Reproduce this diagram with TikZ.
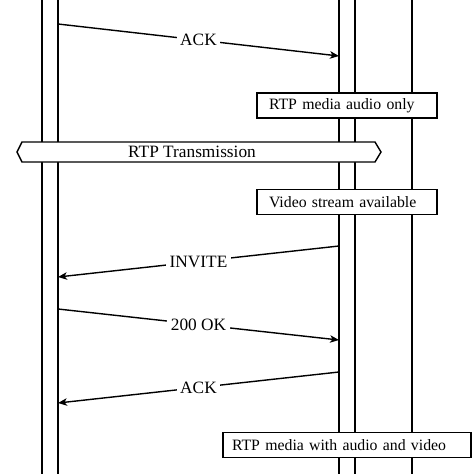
\documentclass[tikz,border=0pt]{standalone}
\usepackage{fontspec}
\setmainfont{Liberation Serif}
\usetikzlibrary{arrows.meta,positioning}

\begin{document}
\begin{tikzpicture}[x=1pt, y=-1pt, line width=1.4pt,
    font=\fontsize{17.3pt}{20pt}\selectfont,
    notebox/.style={draw, fill=white, minimum height=25pt, inner ysep=0pt,
        align=left, font=\fontsize{15.8pt}{18pt}\selectfont},
    msg/.style={fill=white, inner sep=3.5pt}]
    \useasboundingbox (0,0) rectangle (474,474);
    % lifelines
    \foreach \x in {42,58,339,355,412}
        \draw (\x,0) -- (\x,474);

    \coordinate (ack1s) at (58,24);   \coordinate (ack1e) at (339,56);
    \coordinate (invs)  at (339,246); \coordinate (inve)  at (58,277);
    \coordinate (oks)   at (58,309);  \coordinate (oke)   at (339,340);
    \coordinate (ack2s) at (339,372); \coordinate (ack2e) at (58,403);

    \path[-{Stealth[length=9pt,width=7.5pt,inset=2.5pt]}]
        (ack1s) edge node[msg] {ACK} (ack1e)
        (invs)  edge node[msg] {INVITE} (inve)
        (oks)   edge node[msg] {200 OK} (oke)
        (ack2s) edge node[msg] {ACK} (ack2e)
    ;

    \node[notebox, text width=156pt, inner xsep=12pt] (audio) at (347,105.5)
        {RTP media audio only};
%    RTP transmission bar
    \draw[fill=white] (22,142) -- (375,142) -- (381,152) -- (375,162)
        -- (22,162) -- (17,152) -- cycle;
    \node (rtp) at (192,152) {RTP Transmission};
    \node[notebox, text width=156pt, inner xsep=12pt] (video) at (347,202)
        {Video stream available};
    \node[notebox, text width=230pt, inner xsep=9pt] (both) at (347,445)
        {RTP media with audio and video};
\end{tikzpicture}
\end{document}
